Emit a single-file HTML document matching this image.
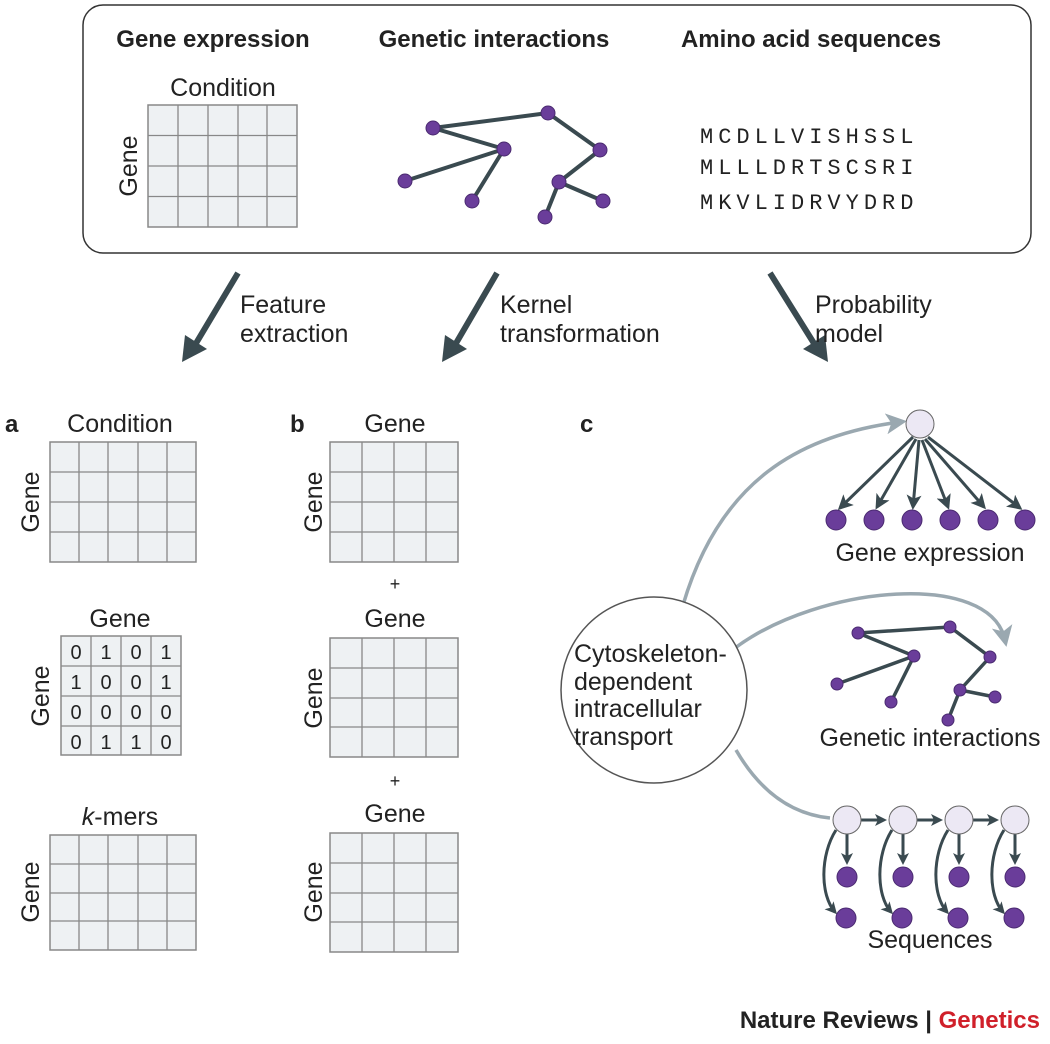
<!DOCTYPE html>
<html><head><meta charset="utf-8"><style>
body{margin:0;background:#fff}
svg text{font-family:"Liberation Sans",sans-serif;fill:#222}
.h{font-weight:bold;font-size:24px}
.l{font-size:25px}
.m{font-family:"Liberation Mono",monospace!important;font-size:22px;letter-spacing:5px}
.g{fill:#eef1f3;stroke:#888;stroke-width:1.5}
.gl{stroke:#888;stroke-width:1.3;fill:none}
.e{stroke:#3a4a50;stroke-width:4;fill:none}
.n{fill:#6a3d9a;stroke:#4a2a70;stroke-width:1}
.w{fill:#ece8f4;stroke:#666;stroke-width:1}
.ga{stroke:#9aa8b0;stroke-width:3.5;fill:none}
.da{stroke:#3a4a50;stroke-width:3;fill:none}
</style></head><body>
<svg width="1050" height="1039" viewBox="0 0 1050 1039" xmlns="http://www.w3.org/2000/svg">
<defs>
<marker id="ag" markerWidth="6" markerHeight="6" refX="4" refY="3" orient="auto" markerUnits="strokeWidth"><path d="M0,0 L6,3 L0,6 L1.5,3z" fill="#9aa8b0"/></marker>
<marker id="ad" markerWidth="5" markerHeight="5" refX="4" refY="2.5" orient="auto" markerUnits="strokeWidth"><path d="M0,0 L5,2.5 L0,5 L1.2,2.5z" fill="#3a4a50"/></marker>
<marker id="ab" markerWidth="4" markerHeight="4" refX="3" refY="2" orient="auto" markerUnits="strokeWidth"><path d="M0,0 L4,2 L0,4 L1,2z" fill="#3a4a50"/></marker>
</defs>
<rect x="83" y="5" width="948" height="248" rx="20" fill="#fff" stroke="#333" stroke-width="1.5"/>
<text class="h" x="213" y="47" text-anchor="middle">Gene expression</text>
<text class="h" x="494" y="47" text-anchor="middle">Genetic interactions</text>
<text class="h" x="811" y="47" text-anchor="middle">Amino acid sequences</text>
<text class="l" x="223" y="96" text-anchor="middle">Condition</text>
<text class="l" transform="translate(137,166) rotate(-90)" text-anchor="middle">Gene</text>
<rect class="g" x="148" y="105" width="149" height="122"/>
<path class="gl" d="M178,105V227M208,105V227M238,105V227M267,105V227M148,135.5H297M148,166H297M148,196.5H297"/>
<g class="e"><path d="M433,128L548,113M433,128L504,149M504,149L405,181M504,149L472,201M548,113L600,150M600,150L559,182M559,182L603,201M559,182L545,217"/></g>
<g class="n"><circle cx="433" cy="128" r="7"/><circle cx="548" cy="113" r="7"/><circle cx="504" cy="149" r="7"/><circle cx="600" cy="150" r="7"/><circle cx="405" cy="181" r="7"/><circle cx="472" cy="201" r="7"/><circle cx="559" cy="182" r="7"/><circle cx="603" cy="201" r="7"/><circle cx="545" cy="217" r="7"/></g>
<text class="m" x="700" y="143">MCDLLVISHSSL</text>
<text class="m" x="700" y="174">MLLLDRTSCSRI</text>
<text class="m" x="700" y="209">MKVLIDRVYDRD</text>
<g stroke="#3a4a50" stroke-width="6"><path d="M238,273L195,345M497,273L455,345M770,273L815,345"/></g>
<g fill="#3a4a50"><path d="M182,362L185,335L207,349z"/><path d="M442,362L445,335L467,349z"/><path d="M828,362L803,349L825,335z"/></g>
<text class="l" x="240" y="313">Feature</text><text class="l" x="240" y="342">extraction</text>
<text class="l" x="500" y="313">Kernel</text><text class="l" x="500" y="342">transformation</text>
<text class="l" x="815" y="313">Probability</text><text class="l" x="815" y="342">model</text>
<text x="5" y="432" style="font-weight:bold;font-size:24px">a</text>
<text x="290" y="432" style="font-weight:bold;font-size:24px">b</text>
<text x="580" y="432" style="font-weight:bold;font-size:24px">c</text>
<!-- a grids -->
<text class="l" x="120" y="432" text-anchor="middle">Condition</text>
<text class="l" transform="translate(39,502) rotate(-90)" text-anchor="middle">Gene</text>
<rect class="g" x="50" y="442" width="146" height="120"/>
<path class="gl" d="M79,442V562M108,442V562M138,442V562M167,442V562M50,472H196M50,502H196M50,532H196"/>
<text class="l" x="120" y="627" text-anchor="middle">Gene</text>
<text class="l" transform="translate(49,696) rotate(-90)" text-anchor="middle">Gene</text>
<rect class="g" x="61" y="636" width="120" height="119"/>
<path class="gl" d="M91,636V755M121,636V755M151,636V755M61,666H181M61,696H181M61,726H181"/>
<g class="m" text-anchor="middle" style="font-size:20px;letter-spacing:0">
<text x="76" y="659">0</text><text x="106" y="659">1</text><text x="136" y="659">0</text><text x="166" y="659">1</text>
<text x="76" y="689">1</text><text x="106" y="689">0</text><text x="136" y="689">0</text><text x="166" y="689">1</text>
<text x="76" y="719">0</text><text x="106" y="719">0</text><text x="136" y="719">0</text><text x="166" y="719">0</text>
<text x="76" y="749">0</text><text x="106" y="749">1</text><text x="136" y="749">1</text><text x="166" y="749">0</text>
</g>
<text class="l" x="120" y="825" text-anchor="middle"><tspan font-style="italic">k</tspan>-mers</text>
<text class="l" transform="translate(39,892) rotate(-90)" text-anchor="middle">Gene</text>
<rect class="g" x="50" y="835" width="146" height="115"/>
<path class="gl" d="M79,835V950M108,835V950M138,835V950M167,835V950M50,864H196M50,893H196M50,921H196"/>
<!-- b grids -->
<text class="l" x="395" y="432" text-anchor="middle">Gene</text>
<text class="l" transform="translate(322,502) rotate(-90)" text-anchor="middle">Gene</text>
<rect class="g" x="330" y="442" width="128" height="120"/>
<path class="gl" d="M362,442V562M394,442V562M426,442V562M330,472H458M330,502H458M330,532H458"/>
<text class="l" x="395" y="590" text-anchor="middle" style="font-size:18px">+</text>
<text class="l" x="395" y="627" text-anchor="middle">Gene</text>
<text class="l" transform="translate(322,698) rotate(-90)" text-anchor="middle">Gene</text>
<rect class="g" x="330" y="638" width="128" height="119"/>
<path class="gl" d="M362,638V757M394,638V757M426,638V757M330,668H458M330,698H458M330,727H458"/>
<text class="l" x="395" y="787" text-anchor="middle" style="font-size:18px">+</text>
<text class="l" x="395" y="822" text-anchor="middle">Gene</text>
<text class="l" transform="translate(322,892) rotate(-90)" text-anchor="middle">Gene</text>
<rect class="g" x="330" y="833" width="128" height="119"/>
<path class="gl" d="M362,833V952M394,833V952M426,833V952M330,863H458M330,893H458M330,922H458"/>
<!-- c -->
<path class="ga" d="M683,605 C720,480 800,435 900,422" marker-end="url(#ag)"/>
<path class="ga" d="M735,648 C820,585 990,570 1005,640" marker-end="url(#ag)"/>
<path class="ga" d="M736,750 C765,800 800,815 830,818"/>
<circle cx="654" cy="690" r="93" fill="#fff" stroke="#555" stroke-width="1.5"/>
<g class="l"><text x="574" y="662">Cytoskeleton-</text><text x="574" y="690">dependent</text><text x="574" y="717">intracellular</text><text x="574" y="745">transport</text></g>
<g class="da">
<path d="M913,437L840,508" marker-end="url(#ad)"/><path d="M916,439L877,507" marker-end="url(#ad)"/><path d="M919,440L913,507" marker-end="url(#ad)"/><path d="M922,440L948,507" marker-end="url(#ad)"/><path d="M925,439L984,507" marker-end="url(#ad)"/><path d="M928,437L1020,508" marker-end="url(#ad)"/>
</g>
<circle class="w" cx="920" cy="424" r="14"/>
<g class="n"><circle cx="836" cy="520" r="10"/><circle cx="874" cy="520" r="10"/><circle cx="912" cy="520" r="10"/><circle cx="950" cy="520" r="10"/><circle cx="988" cy="520" r="10"/><circle cx="1025" cy="520" r="10"/></g>
<text class="l" x="930" y="561" text-anchor="middle">Gene expression</text>
<g class="e" style="stroke-width:3.5"><path d="M858,633L950,627M858,633L914,656M914,656L837,684M914,656L891,702M950,627L990,657M990,657L960,690M960,690L995,697M960,690L948,720"/></g>
<g class="n"><circle cx="858" cy="633" r="6"/><circle cx="950" cy="627" r="6"/><circle cx="914" cy="656" r="6"/><circle cx="990" cy="657" r="6"/><circle cx="837" cy="684" r="6"/><circle cx="891" cy="702" r="6"/><circle cx="960" cy="690" r="6"/><circle cx="995" cy="697" r="6"/><circle cx="948" cy="720" r="6"/></g>
<text class="l" x="930" y="746" text-anchor="middle">Genetic interactions</text>
<g class="da">
<path d="M860,820H884" marker-end="url(#ab)"/><path d="M916,820H940" marker-end="url(#ab)"/><path d="M972,820H996" marker-end="url(#ab)"/>
<path d="M847,834V862" marker-end="url(#ab)"/><path d="M903,834V862" marker-end="url(#ab)"/><path d="M959,834V862" marker-end="url(#ab)"/><path d="M1015,834V862" marker-end="url(#ab)"/>
<path d="M836,830C820,855 820,895 835,912" marker-end="url(#ab)"/><path d="M892,830C876,855 876,895 891,912" marker-end="url(#ab)"/><path d="M948,830C932,855 932,895 947,912" marker-end="url(#ab)"/><path d="M1004,830C988,855 988,895 1003,912" marker-end="url(#ab)"/>
</g>
<g class="w"><circle cx="847" cy="820" r="14"/><circle cx="903" cy="820" r="14"/><circle cx="959" cy="820" r="14"/><circle cx="1015" cy="820" r="14"/></g>
<g class="n"><circle cx="847" cy="877" r="10"/><circle cx="903" cy="877" r="10"/><circle cx="959" cy="877" r="10"/><circle cx="1015" cy="877" r="10"/><circle cx="846" cy="918" r="10"/><circle cx="902" cy="918" r="10"/><circle cx="958" cy="918" r="10"/><circle cx="1014" cy="918" r="10"/></g>
<text class="l" x="930" y="948" text-anchor="middle">Sequences</text>
<text x="1040" y="1028" text-anchor="end" style="font-weight:bold;font-size:24px">Nature Reviews | <tspan fill="#d0202a" style="fill:#d0202a">Genetics</tspan></text>
</svg>
</body></html>
